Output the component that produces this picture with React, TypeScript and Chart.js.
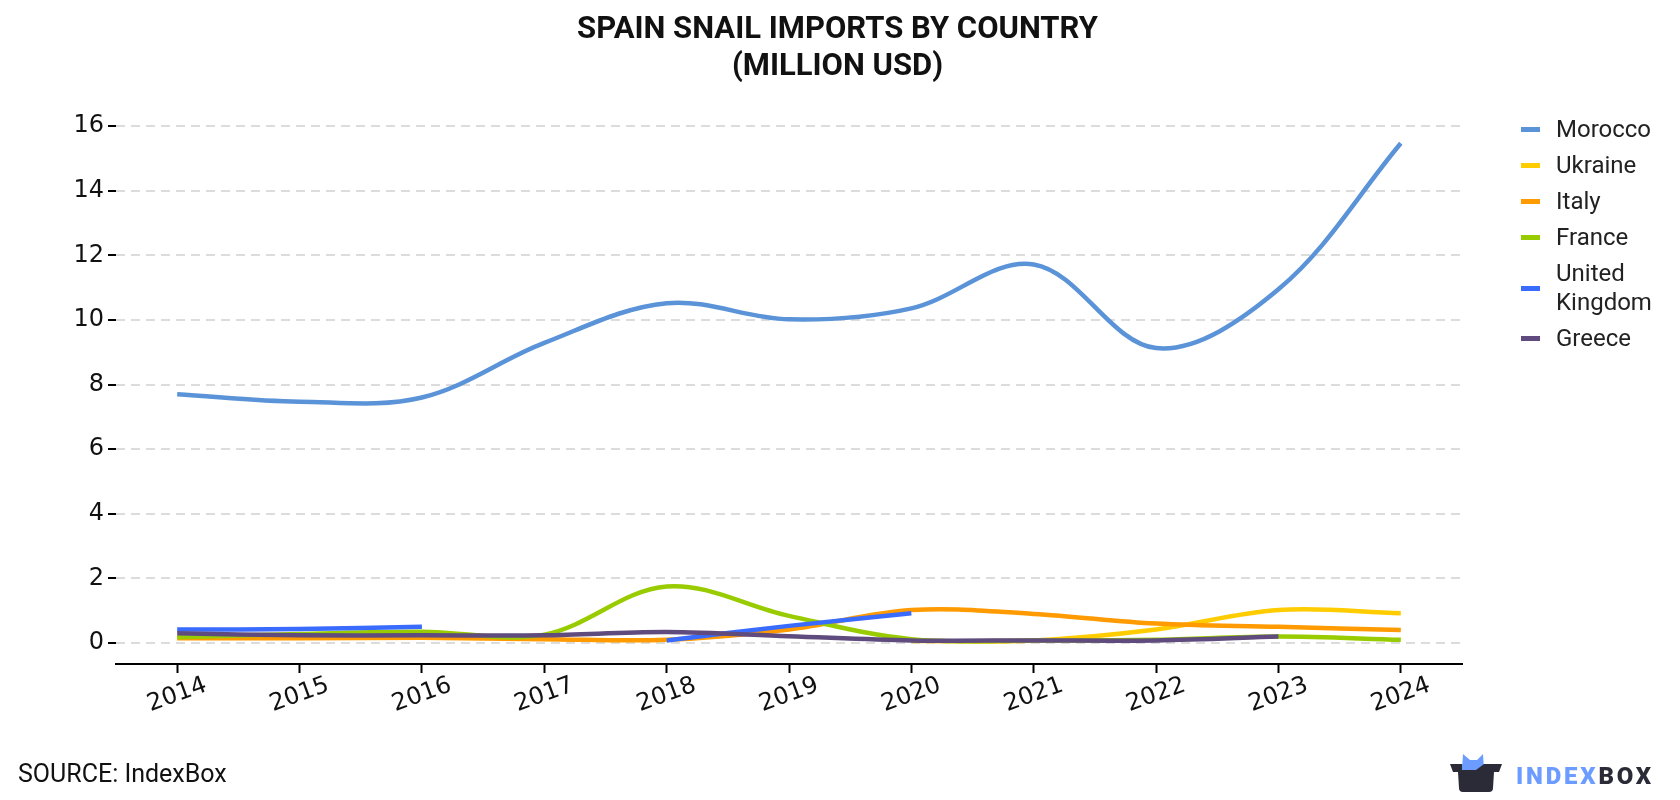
import { useEffect, useRef } from "react";
import { Chart, registerables } from "chart.js";

Chart.register(...registerables);

// Import values, million USD
const years = ["2014", "2015", "2016", "2017", "2018", "2019", "2020", "2021", "2022", "2023", "2024"];
const morocco = [7.7, 7.47, 7.6, 9.29, 10.52, 10.02, 10.36, 11.72, 9.13, 10.95, 15.47];
const ukraine = [null, null, null, null, null, null, 0.06, 0.08, 0.42, 1.02, 0.92];
const italy = [0.15, 0.15, 0.16, 0.12, 0.1, 0.42, 1.02, 0.9, 0.6, 0.5, 0.4];
const france = [0.18, 0.28, 0.35, 0.26, 1.75, 0.84, 0.12, 0.08, 0.1, 0.2, 0.1];
const unitedKingdom = [0.42, 0.43, 0.5, null, 0.08, 0.53, 0.92, null, null, null, null];
const greece = [0.3, 0.24, 0.24, 0.24, 0.34, 0.21, 0.08, 0.08, 0.08, 0.2, null];

const yTicks = [0, 2, 4, 6, 8, 10, 12, 14, 16];

const seriesNames = ["Morocco", "Ukraine", "Italy", "France", "United Kingdom", "Greece"];
const seriesColors = ["#5A93D8", "#FFCC00", "#FF9A00", "#99CC00", "#3A6BFF", "#5F4B7E"];
const seriesValues = [morocco, ukraine, italy, france, unitedKingdom, greece];

// Year labels drawn centred under each tick and tilted upward
const xLabelPlugin = {
  id: "tiltedYearLabels",
  afterDraw(chart: any) {
    const ctx = chart.ctx;
    const xs = chart.scales.x;
    const base = chart.chartArea.bottom + 31;
    ctx.save();
    ctx.font = '24px "DejaVu Sans"';
    ctx.fillStyle = "#111";
    ctx.textAlign = "center";
    ctx.textBaseline = "middle";
    years.forEach((label, i) => {
      const x = xs.getPixelForTick(i);
      ctx.save();
      ctx.translate(x, base);
      ctx.rotate((-20 * Math.PI) / 180);
      ctx.fillText(label, 0, 0);
      ctx.restore();
    });
    ctx.restore();
  },
};

function LineChart() {
  const ref = useRef<HTMLCanvasElement>(null);
  useEffect(() => {
    if (!ref.current) return;
    const chart = new Chart(ref.current, {
      type: "line",
      data: {
        labels: years,
        datasets: seriesValues.map((vals, i) => ({
          label: seriesNames[i],
          data: vals,
          borderColor: seriesColors[i],
          backgroundColor: seriesColors[i],
          borderWidth: 4.5,
          pointRadius: 0,
          pointHoverRadius: 0,
          tension: 0.35,
          fill: false,
          spanGaps: false,
          order: seriesNames.length - 1 - i,
        })),
      },
      options: {
        animation: false,
        responsive: false,
        maintainAspectRatio: false,
        layout: { padding: { left: 0, right: 218, top: 110, bottom: 0 } },
        plugins: {
          legend: { display: false },
          title: { display: false },
          tooltip: { enabled: false },
        },
        scales: {
          x: {
            type: "category",
            offset: true,
            grid: {
              display: true,
              drawOnChartArea: false,
              drawTicks: true,
              tickLength: 9,
              tickColor: "#000",
              tickWidth: 2,
              offset: false,
            },
            border: { display: true, color: "#000", width: 2 },
            ticks: { display: false },
            afterFit(scale: any) {
              scale.height = 136;
            },
          },
          y: {
            min: -0.65,
            max: 16.5,
            afterBuildTicks(scale: any) {
              scale.ticks = yTicks.map((v) => ({ value: v }));
            },
            grid: {
              color: "#dcdcdc",
              lineWidth: 2,
              tickColor: "#000",
              tickLength: 8,
              tickWidth: 2,
              tickBorderDash: [],
            },
            border: { display: false, dash: [9, 6] },
            ticks: {
              font: { family: "DejaVu Sans", size: 24 },
              color: "#111",
              padding: 4,
            },
            afterFit(scale: any) {
              scale.width = 116;
            },
          },
        },
      },
      plugins: [xLabelPlugin],
    });
    return () => chart.destroy();
  }, []);
  return <canvas ref={ref} width={1680} height={800} style={{ position: "absolute", left: 0, top: 0 }} />;
}

function Logo() {
  return (
    <div style={{ position: "absolute", left: 1448, top: 752, display: "flex", alignItems: "center" }}>
      <svg width={56} height={42} viewBox="0 0 56 42">
        <path d="M14 18 L15 2 L22 8 L29 8 L35 2 L36 18 Z" fill="#6C9CFF" />
        <path d="M2 12 L54 12 L51 20 L46 20 L45 36 Q45 40 41 40 L15 40 Q11 40 11 36 L10 20 L5 20 Z" fill="#2A2B36" />
        <path d="M14 12 L36 12 L28 18 L14 18 Z" fill="#6C9CFF" />
      </svg>
      <div
        style={{
          marginLeft: 12,
          fontFamily: "Roboto",
          fontWeight: 900,
          fontSize: 24,
          letterSpacing: 2.8,
          lineHeight: "26px",
          marginTop: 6,
        }}
      >
        <span style={{ color: "#6C9CFF" }}>INDEX</span>
        <span style={{ color: "#2A2B36" }}>BOX</span>
      </div>
    </div>
  );
}

export default function App() {
  return (
    <div style={{ position: "absolute", left: 0, top: 0, width: 1680, height: 800, background: "#fff", overflow: "hidden" }}>
      <LineChart />
      <div
        style={{
          position: "absolute",
          left: 0,
          top: 9,
          width: 1675,
          textAlign: "center",
          fontFamily: "Roboto",
          fontWeight: 700,
          fontSize: 31,
          lineHeight: "37px",
          color: "#111",
        }}
      >
        SPAIN SNAIL IMPORTS BY COUNTRY
        <br />
        (MILLION USD)
      </div>
      <div style={{ position: "absolute", left: 1521, top: 115, fontFamily: "Roboto", fontSize: 24, color: "#222" }}>
        {seriesNames.map((name, i) => (
          <div key={name} style={{ display: "flex", alignItems: "center", marginBottom: 7 }}>
            <div style={{ width: 19, height: 5, background: seriesColors[i], marginRight: 16, flexShrink: 0 }} />
            <div style={{ width: 110, lineHeight: "29px" }}>{name}</div>
          </div>
        ))}
      </div>
      <div style={{ position: "absolute", left: 18, top: 760, fontFamily: "Roboto", fontSize: 25, color: "#111", lineHeight: "28px" }}>
        SOURCE: IndexBox
      </div>
      <Logo />
    </div>
  );
}
